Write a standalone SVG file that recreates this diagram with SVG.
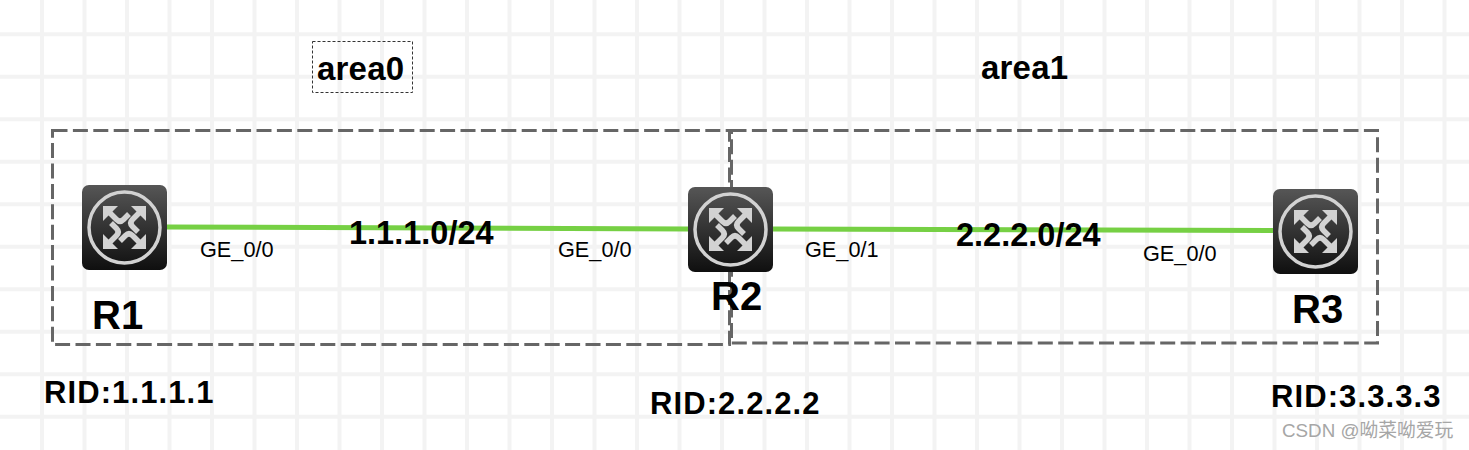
<svg xmlns="http://www.w3.org/2000/svg" xmlns:xlink="http://www.w3.org/1999/xlink" width="1469" height="450" viewBox="0 0 1469 450">
<style>
text{font-family:"Liberation Sans",Arial,sans-serif;fill:#000}
.b{font-weight:bold;font-size:31px;letter-spacing:1.1px}
.t{font-weight:bold;font-size:33px;letter-spacing:.2px}
.s{font-weight:bold;font-size:32.500px}
.p{font-size:21.700px}
.n{font-weight:bold;font-size:40px}
.area{fill:none;stroke:#666;stroke-width:3px;stroke-dasharray:15 5.4}
.link{stroke:#76d044;stroke-width:5px;fill:none}
.grid{stroke:#f3f3f3;stroke-width:4px;fill:none}
</style>
<defs>
<linearGradient id="rg" x1="0" y1="0" x2="0" y2="1"><stop offset="0" stop-color="#565656"/><stop offset="1" stop-color="#0f0f0f"/></linearGradient>
<g id="arm">
<path d="M21 21H36L21 36Z" fill="#d2d2d2"/>
<path d="M27 27L34.500 34.500Q38 38 41.500 34.500L47 29" fill="none" stroke="#d2d2d2" stroke-width="5.500"/>
</g>
<g id="router">
<rect width="85" height="85" rx="7" fill="url(#rg)"/>
<circle cx="42.5" cy="42.5" r="35.500" fill="none" stroke="#d2d2d2" stroke-width="3.500"/>
<use xlink:href="#arm" href="#arm"/>
<use xlink:href="#arm" href="#arm" transform="rotate(90 42.5 42.5)"/>
<use xlink:href="#arm" href="#arm" transform="rotate(180 42.5 42.5)"/>
<use xlink:href="#arm" href="#arm" transform="rotate(270 42.5 42.5)"/>
</g>
</defs>
<rect width="1469" height="450" fill="#fff"/>
<path class="grid" d="M42 0V450M84.500 0V450M127 0V450M169.500 0V450M212 0V450M254.500 0V450M297 0V450M339.500 0V450M382 0V450M424.500 0V450M467 0V450M509.500 0V450M552 0V450M594.500 0V450M637 0V450M679.500 0V450M722 0V450M764.500 0V450M807 0V450M849.500 0V450M892 0V450M934.500 0V450M977 0V450M1019.500 0V450M1062 0V450M1104.500 0V450M1147 0V450M1189.500 0V450M1232 0V450M1274.500 0V450M1317 0V450M1359.500 0V450M1402 0V450M1444.500 0V450M0 34.300H1469M0 76.800H1469M0 119.300H1469M0 161.800H1469M0 204.300H1469M0 246.800H1469M0 289.300H1469M0 331.800H1469M0 374.300H1469M0 416.800H1469"/>
<g id="area-boxes">
<rect class="area" x="52.500" y="130.500" width="677" height="214"/>
<rect class="area" x="731.500" y="130.500" width="646" height="212.500"/>
<rect x="312.500" y="41.500" width="100" height="51" fill="none" stroke="#333" stroke-width="1" stroke-dasharray="3 2"/>
</g>
<g id="connectors">
<line class="link" x1="167" y1="227" x2="688" y2="229"/>
<line class="link" x1="772" y1="229" x2="1273" y2="230.500"/>
</g>
<g id="R1"><use xlink:href="#router" href="#router" x="82" y="185"/><text class="n" x="92" y="329">R1</text><text class="b" x="44" y="403">RID:1.1.1.1</text></g>
<g id="R2"><use xlink:href="#router" href="#router" x="688" y="187"/><text class="n" x="711" y="310">R2</text><text class="b" x="650" y="414">RID:2.2.2.2</text></g>
<g id="R3"><use xlink:href="#router" href="#router" x="1273" y="189"/><text class="n" x="1292" y="323">R3</text><text class="b" x="1271" y="407">RID:3.3.3.3</text></g>
<g id="labels">
<text class="t" x="317" y="80">area0</text>
<text class="t" x="981" y="79">area1</text>
<text class="s" x="349" y="244">1.1.1.0/24</text>
<text class="s" x="956" y="246">2.2.2.0/24</text>
<text class="p" x="200" y="257">GE_0/0</text>
<text class="p" x="558" y="257">GE_0/0</text>
<text class="p" x="805" y="257">GE_0/1</text>
<text class="p" x="1143" y="261">GE_0/0</text>
<text x="1282" y="437" style="font-family:'Liberation Sans','Noto Sans CJK SC',sans-serif;font-size:18.800px;fill:#a6a6a6">CSDN @呦菜呦爱玩</text>
</g>
</svg>
